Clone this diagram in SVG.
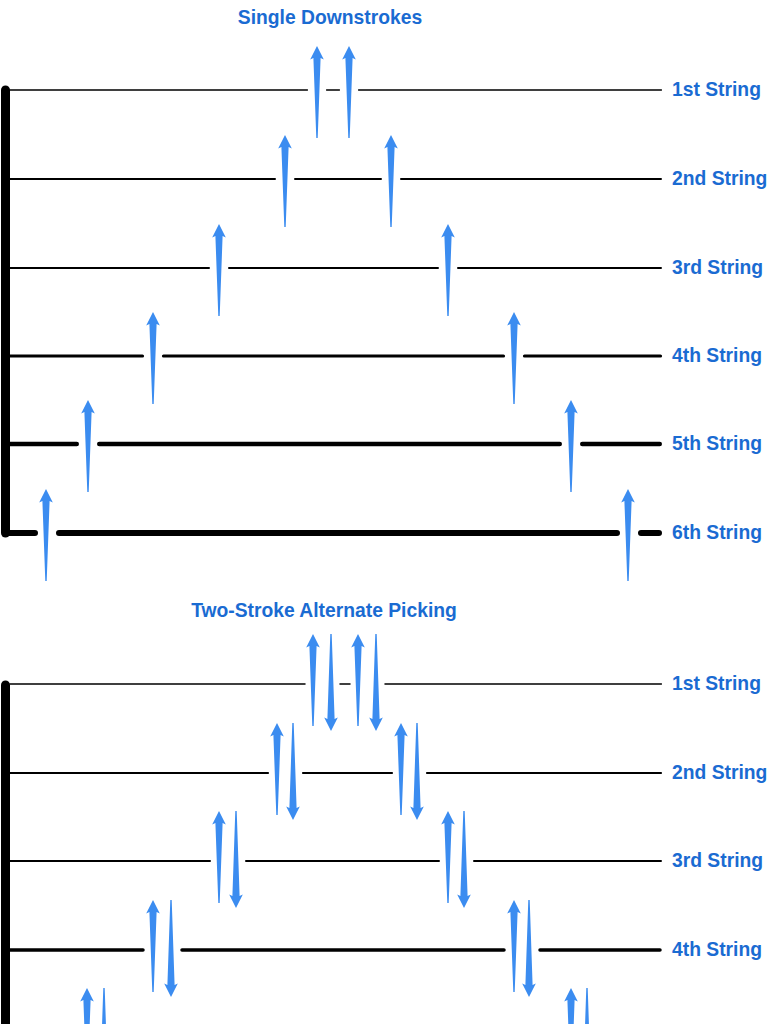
<svg xmlns="http://www.w3.org/2000/svg" xmlns:xlink="http://www.w3.org/1999/xlink" width="768" height="1024" viewBox="0 0 768 1024">
<style>
.t{font-family:"Liberation Sans",Arial,sans-serif;font-weight:bold;font-size:19.3px;fill:#1a6bd2}
.title{text-anchor:middle}
.s{stroke:#000;fill:none;stroke-linecap:round}
.bar{stroke:#000;stroke-width:9;stroke-linecap:round;fill:none}
.a{fill:#3b8cf0}
</style>
<defs>
<path id="up" d="M0,0 L6.8,13.5 L3.6,12 L0.7,92 L-0.7,92 L-3.6,12 L-6.8,13.5 Z"/>
<path id="dn" d="M-0.7,0 L0.7,0 L3.6,85 L6.8,83.5 L0,97 L-6.8,83.5 L-3.6,85 Z"/>
</defs>
<rect width="768" height="1024" fill="#fff"/>

<g id="section1">
<text id="title1" class="t title" x="330" y="24">Single Downstrokes</text>
<g id="strings1">
<line class="bar" x1="5.5" y1="90" x2="5.5" y2="533"/>
<g id="s1-1"><path class="s" stroke-width="1.5" d="M10,90H307.4M326.6,90H339.4M358.6,90H661.4"/><text class="t" x="672" y="96">1st String</text></g>
<g id="s1-2"><path class="s" stroke-width="2" d="M10,179H275M295,179H381M401,179H661"/><text class="t" x="672" y="185">2nd String</text></g>
<g id="s1-3"><path class="s" stroke-width="2" d="M10,268H209M229,268H438M458,268H661"/><text class="t" x="672" y="274">3rd String</text></g>
<g id="s1-4"><path class="s" stroke-width="3.2" d="M10,356H142.5M163.5,356H503.5M524.5,356H660.5"/><text class="t" x="672" y="362">4th String</text></g>
<g id="s1-5"><path class="s" stroke-width="4.5" d="M8,444H76.75M99.25,444H559.75M582.25,444H659.75"/><text class="t" x="672" y="450">5th String</text></g>
<g id="s1-6"><path class="s" stroke-width="6" d="M5.5,533H35M59,533H617M641,533H659"/><text class="t" x="672" y="539">6th String</text></g>
</g>
<g id="arrows1" class="a">
<use xlink:href="#up" x="317" y="46"/><use xlink:href="#up" x="349" y="46"/>
<use xlink:href="#up" x="285" y="135"/><use xlink:href="#up" x="391" y="135"/>
<use xlink:href="#up" x="219" y="224"/><use xlink:href="#up" x="448" y="224"/>
<use xlink:href="#up" x="153" y="312"/><use xlink:href="#up" x="514" y="312"/>
<use xlink:href="#up" x="88" y="400"/><use xlink:href="#up" x="571" y="400"/>
<use xlink:href="#up" x="46" y="489"/><use xlink:href="#up" x="628" y="489"/>
</g>
</g>

<g id="section2">
<text id="title2" class="t title" x="324" y="617">Two-Stroke Alternate Picking</text>
<g id="strings2">
<line class="bar" x1="5.5" y1="685" x2="5.5" y2="1040"/>
<g id="s2-1"><path class="s" stroke-width="1.5" d="M10,684H305M340,684H350M385,684H661.4"/><text class="t" x="672" y="690">1st String</text></g>
<g id="s2-2"><path class="s" stroke-width="2.2" d="M10,773H268M303,773H392M427,773H661"/><text class="t" x="672" y="779">2nd String</text></g>
<g id="s2-3"><path class="s" stroke-width="2" d="M10,861H210M246,861H439M474,861H661"/><text class="t" x="672" y="867">3rd String</text></g>
<g id="s2-4"><path class="s" stroke-width="3.5" d="M10,950H143M182,950H504M540,950H660"/><text class="t" x="672" y="956">4th String</text></g>
</g>
<g id="arrows2" class="a">
<use xlink:href="#up" x="313" y="634"/><use xlink:href="#dn" x="331" y="634"/>
<use xlink:href="#up" x="358" y="634"/><use xlink:href="#dn" x="376" y="634"/>
<use xlink:href="#up" x="277" y="723"/><use xlink:href="#dn" x="293" y="723"/>
<use xlink:href="#up" x="401" y="723"/><use xlink:href="#dn" x="417" y="723"/>
<use xlink:href="#up" x="219" y="811"/><use xlink:href="#dn" x="236" y="811"/>
<use xlink:href="#up" x="448" y="811"/><use xlink:href="#dn" x="464" y="811"/>
<use xlink:href="#up" x="153" y="900"/><use xlink:href="#dn" x="171" y="900"/>
<use xlink:href="#up" x="514" y="900"/><use xlink:href="#dn" x="529" y="900"/>
<use xlink:href="#up" x="87" y="988"/><use xlink:href="#dn" x="104" y="988"/>
<use xlink:href="#up" x="571" y="988"/><use xlink:href="#dn" x="587" y="988"/>
</g>
</g>
</svg>
